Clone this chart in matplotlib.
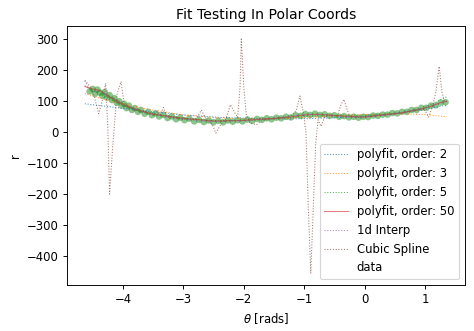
import numpy as np
import matplotlib
matplotlib.use("Agg")
import matplotlib.pyplot as plt

# measured data points (theta [rads], r)
data_theta = [-4.55, -4.50, -4.46, -4.42, -4.38, -4.34, -4.30, -4.26, -4.22, -4.18,
              -4.14, -4.10, -4.06, -4.02, -3.98, -3.94, -3.90, -3.85, -3.80, -3.75,
              -3.70, -3.64, -3.58, -3.52, -3.46, -3.40, -3.33, -3.26, -3.19, -3.12,
              -3.05, -2.98, -2.90, -2.82, -2.74, -2.66, -2.58, -2.50, -2.42, -2.34,
              -2.26, -2.18, -2.10, -2.02, -1.94, -1.86, -1.78, -1.70, -1.62, -1.54,
              -1.46, -1.38, -1.30, -1.22, -1.14, -1.06, -0.98, -0.90, -0.82, -0.74,
              -0.66, -0.58, -0.50, -0.42, -0.34, -0.26, -0.18, -0.10, -0.02, 0.06,
              0.14, 0.22, 0.30, 0.38, 0.46, 0.54, 0.62, 0.70, 0.78, 0.86,
              0.94, 1.02, 1.10, 1.18, 1.26, 1.34]
data_r = [132, 140, 124, 138, 128, 118, 130, 112, 120, 104,
          110, 95, 100, 86, 92, 78, 86, 72, 78, 66,
          72, 60, 66, 55, 61, 51, 56, 46, 51, 42,
          47, 39, 44, 35, 40, 33, 38, 32, 37, 32,
          38, 34, 39, 35, 41, 37, 43, 40, 45, 42,
          47, 45, 50, 48, 55, 53, 59, 56, 60, 56,
          58, 53, 55, 50, 52, 48, 50, 47, 50, 49,
          54, 53, 57, 57, 62, 61, 66, 66, 72, 72,
          79, 79, 86, 87, 96, 97]

# fitted curves
p2_theta = [-4.63, -4.2, -3.6, -3.0, -2.4, -1.8, -1.2, -0.6, 0.0, 0.6, 1.0, 1.36]
p2_r = [92, 82, 68, 56, 48, 44, 43, 46, 52, 62, 74, 88]

p3_theta = [-4.63, -4.2, -3.6, -3.0, -2.4, -1.8, -1.2, -0.6, 0.0, 0.6, 1.0, 1.36]
p3_r = [125, 100, 75, 56, 46, 42, 45, 52, 57, 60, 57, 50]

p5_theta = [-4.63, -4.3, -4.0, -3.6, -3.0, -2.4, -1.8, -1.2, -0.6, 0.0, 0.6, 1.0, 1.36]
p5_r = [150, 115, 88, 64, 45, 37, 40, 48, 54, 55, 62, 80, 115]

p50_theta = [-4.63, -4.5, -4.4, -4.3, -4.2, -4.0, -3.8, -3.5, -3.0, -2.5, -2.0, -1.5,
             -1.2, -1.0, -0.8, -0.6, -0.3, 0.0, 0.3, 0.6, 0.9, 1.1, 1.25, 1.36]
p50_r = [148, 140, 136, 125, 112, 90, 75, 58, 45, 36, 38, 45,
         50, 56, 58, 56, 51, 49, 55, 62, 73, 84, 95, 100]

interp_theta = [-4.63, -4.55, -4.46, -4.38, -4.30, -4.22, -4.14, -4.06, -3.98, -3.90,
                -3.80, -3.64, -3.46, -3.26, -3.05, -2.82, -2.58, -2.34, -2.10, -1.86,
                -1.62, -1.38, -1.14, -0.90, -0.66, -0.42, -0.18, 0.06, 0.30, 0.54,
                0.78, 0.94, 1.10, 1.26, 1.36]
interp_r = [166, 140, 132, 134, 124, 116, 106, 96, 88, 82,
            76, 64, 58, 49, 44, 38, 35, 35, 37, 39,
            43, 46, 54, 58, 57, 51, 49, 50, 55, 61,
            71, 78, 86, 95, 100]

spline_theta = [-4.63, -4.55, -4.48, -4.40, -4.33, -4.285, -4.25, -4.22, -4.17, -4.10,
                -4.03, -3.98, -3.90, -3.80, -3.70, -3.60, -3.50, -3.43, -3.38, -3.33,
                -3.27, -3.10, -2.90, -2.78, -2.70, -2.62, -2.52, -2.46, -2.38, -2.30,
                -2.22, -2.14, -2.10, -2.06, -2.04, -2.00, -1.96, -1.90, -1.79, -1.70,
                -1.50, -1.30, -1.20, -1.13, -1.07, -1.01, -0.97, -0.93, -0.89, -0.85,
                -0.81, -0.77, -0.72, -0.66, -0.55, -0.45, -0.39, -0.34, -0.30, -0.25,
                -0.10, 0.10, 0.30, 0.50, 0.70, 0.90, 1.00, 1.06, 1.12, 1.18,
                1.235, 1.28, 1.32, 1.36]
spline_r = [168, 150, 120, 60, 110, 158, 20, -200, -50, 120,
            164, 95, 80, 72, 66, 62, 55, 68, 55, 80,
            50, 45, 40, 45, 72, 40, 25, -3, 25, 40,
            89, 60, 48, 150, 305, 150, 60, 30, 24, 38,
            44, 49, 55, 70, 117, 60, 0, -250, -456, -250,
            -40, 40, 19, 50, 55, 52, 90, 106, 80, 52,
            48, 53, 57, 60, 67, 75, 70, 49, 80, 130,
            213, 130, 100, 100]

DPI = 84
plt.figure(figsize=(474 / DPI, 331 / DPI), dpi=DPI)
ax = plt.axes([0.1407, 0.139, 0.840, 0.782])

ax.scatter(data_theta, data_r, s=32, color='green', alpha=0.45, edgecolors='none')
ax.plot(p2_theta, p2_r, ':', color='C0', lw=0.9, alpha=0.8, label="polyfit, order: 2")
ax.plot(p3_theta, p3_r, ':', color='C1', lw=0.9, alpha=0.8, label="polyfit, order: 3")
ax.plot(p5_theta, p5_r, ':', color='C2', lw=0.9, alpha=0.8, label="polyfit, order: 5")
ax.plot(p50_theta, p50_r, '-', color='C3', lw=0.9, alpha=0.6, label="polyfit, order: 50")
ax.plot(interp_theta, interp_r, ':', color='C4', lw=0.9, alpha=0.8, label="1d Interp")
ax.plot(spline_theta, spline_r, ':', color='C5', lw=0.9, alpha=0.8, label="Cubic Spline")
ax.plot([], [], ' ', label="data")

ax.set_xlabel(r"$\theta$ [rads]")
ax.set_ylabel("r")
ax.set_title("Fit Testing In Polar Coords")
ax.legend(loc='lower right')

plt.savefig("out.png", dpi=DPI)
